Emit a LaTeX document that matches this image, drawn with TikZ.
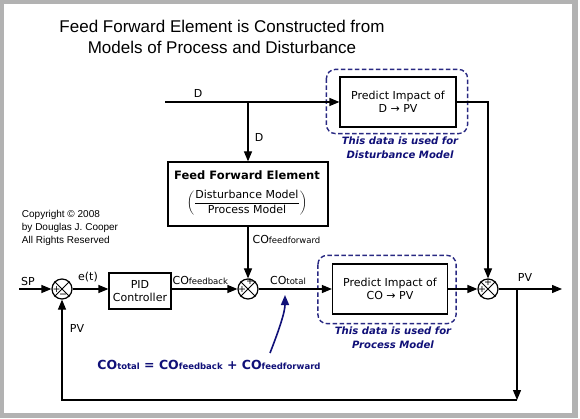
\documentclass[tikz,border=0pt]{standalone}
\usepackage{fontspec}
\setmainfont{DejaVu Sans}
\newfontfamily\arialfont{Liberation Sans}
\usetikzlibrary{positioning}
\usetikzlibrary{shapes}
\usetikzlibrary{arrows.meta}

\definecolor{navy}{RGB}{16,16,120}
\definecolor{halonavy}{RGB}{40,40,130}
\definecolor{framegray}{RGB}{178,178,178}

\newcommand{\cotxt}[1]{CO{\fontsize{8.5}{10}\selectfont #1}}

\begin{document}
\begin{tikzpicture}[x=1pt, y=-1pt, >={Triangle[length=10pt,width=8pt]}, line width=1.2pt,
    block/.style={draw, align=center, font=\fontsize{11}{13}\selectfont},
    sumjn/.style={draw, circle, minimum size=20pt, inner sep=0pt},
    sign/.style={inner sep=0pt, font=\fontsize{9.5}{9.5}\selectfont},
    lbl/.style={font=\fontsize{11}{13}\selectfont},
    colbl/.style={inner sep=1pt, font=\fontsize{11}{13}\selectfont},
    note/.style={align=center, text=navy, font=\fontsize{10.1}{14}\selectfont\bfseries\itshape},
    halo/.style={draw=halonavy, rounded corners=9pt, line width=1.4pt, dash pattern=on 4.5pt off 2.5pt}]

        \useasboundingbox (0,0) rectangle (580,419);
        \fill[framegray] (0,0) rectangle (578,418);
        \fill[white] (4,4) rectangle (572,413);

        % Title
        \node[align=center, font=\arialfont\fontsize{17}{21}\selectfont] (title) at (222,37) {Feed Forward Element is Constructed from\\Models of Process and Disturbance};

        % Blocks
        \node[block, minimum width=116pt, minimum height=50pt] (dmodel) at (398,102) {Predict Impact of\\D → PV};
        \node[block, minimum width=115pt, minimum height=50pt] (pmodel) at (390,289) {Predict Impact of\\CO → PV};
        \node[block, minimum width=62pt, minimum height=36pt] (pid) at (140,291) {PID\\Controller};
        \node[block, minimum width=160pt, minimum height=64pt] (ffe) at (248,194) {};
        \node[inner sep=0pt, font=\bfseries\fontsize{11.5}{13}\selectfont] (ffetitle) at (247,175) {Feed Forward Element};
        \node[inner sep=0pt, font=\fontsize{11}{13}\selectfont] (fferatio) at (247,203)
            {$\displaystyle\left(\frac{\mbox{Disturbance Model}}{\mbox{Process Model}}\right)$};

        % Dashed outlines round the models
        \draw[halo] ([shift={(-13,-7)}]dmodel.north west) rectangle ([shift={(11,6)}]dmodel.south east);
        \draw[halo] ([shift={(-14,-8)}]pmodel.north west) rectangle ([shift={(8,9)}]pmodel.south east);
        \node[note] (dnote) at (400,148) {This data is used for\\Disturbance Model};
        \node[note] (pnote) at (393,338) {This data is used for\\Process Model};

        % Summing junctions
        \node[sumjn] (s1) at (62,289) {};
        \node[sumjn] (s2) at (248,289) {};
        \node[sumjn] (s3) at (488,289) {};
        \foreach \s in {s1,s2,s3} {
            \draw[line width=0.8pt] (\s.north west) -- (\s.south east) (\s.north east) -- (\s.south west);
        }
        \node[sign] (s1a) at ([shift={(-5.5,1)}]s1.center) {+};
        \node[sign] (s1b) at ([shift={(1,7)}]s1.center) {−};
        \node[sign] (s2a) at ([shift={(2,-7)}]s2.center) {+};
        \node[sign] (s2b) at ([shift={(-6,1)}]s2.center) {+};
        \node[sign] (s3a) at ([shift={(0,-6)}]s3.center) {+};
        \node[sign] (s3b) at ([shift={(-6,1)}]s3.center) {+};

        % Free ends
        \coordinate (dstart) at (165,102);
        \coordinate (dsplit) at (248,102);
        \coordinate (sp) at (19,289);
        \coordinate (pvsplit) at (517,289);
        \coordinate (pvend) at (562,289);
        \coordinate (fbcorner) at (517,400);

        % Connectors
        \draw[->] (dstart) -- (dmodel.west);
        \draw[->] (dsplit) -- (ffe.north);
        \draw[->] (ffe.south) -- (s2.north);
        \draw[->] (sp) -- (s1.west);
        \draw[->] (s1.east) -- (pid.west |- s1.east);
        \draw[->] (pid.east |- s2.west) -- (s2.west);
        \draw[->] (s2.east) -- (pmodel.west);
        \draw[->] (pmodel.east) -- (s3.west);
        \draw[->] (dmodel.east) -| (s3.north);
        \draw[->] (s3.east) -- (pvend);
        \draw[->] (pvsplit) -- (fbcorner);
        \draw[->] (fbcorner) -| (s1.south);

        % Signal labels
        \node[lbl] (dlbl) at (198,93) {D};
        \node[lbl] (dlbl2) at (259,137) {D};
        \node[lbl] (splbl) at (28,281) {SP};
        \node[lbl] (etlbl) at (88,277) {e(t)};
        \node[lbl] (pvlbl) at (525,277) {PV};
        \node[lbl] (pvlbl2) at (77,328) {PV};
        \node[colbl, anchor=west] (cfblbl) at (171,280) {\cotxt{feedback}};
        \node[colbl, anchor=west] (cfflbl) at (251,239) {\cotxt{feedforward}};
        \node[colbl] (ctlbl) at (288,280) {\cotxt{total}};

        % Copyright
        \node[align=left, anchor=west, font=\arialfont\fontsize{10}{13}\selectfont] (copy) at (18,228) {Copyright © 2008\\by Douglas J. Cooper\\All Rights Reserved};

        % Equation and its pointer
        \node[text=navy, font=\bfseries\fontsize{12.5}{14}\selectfont] (eqn) at (209,365) {\cotxt{total} = \cotxt{feedback} + \cotxt{feedforward}};
        \coordinate (eqtail) at (270,353);
        \coordinate (cotip) at (285,295);
        \draw[->, navy, line width=1.6pt] (eqtail) .. controls (279,330) and (285,312) .. (cotip);

\end{tikzpicture}
\end{document}
